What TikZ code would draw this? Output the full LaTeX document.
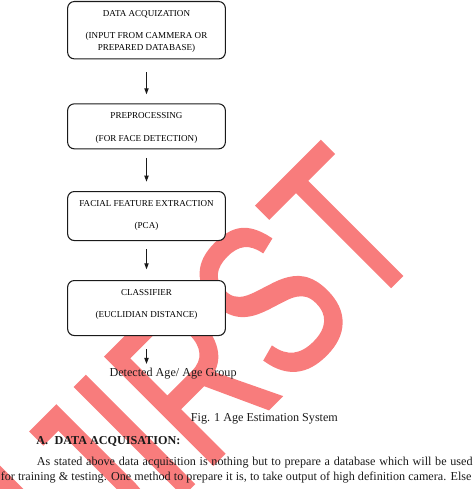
\documentclass[tikz,border=0pt]{standalone}
\usepackage{fontspec}
\usepackage{graphicx}
\setmainfont{Liberation Serif}
\newfontfamily\wmfont[RawFeature={embolden=1.5}]{Liberation Sans}
\usepackage{tikz}
\usetikzlibrary{arrows.meta}
\definecolor{aeInk}{HTML}{1A1A1A}
\definecolor{aeMark}{HTML}{F87C7C}
\tikzset{
  stage/.style     ={draw=aeInk,line width=0.8pt,rounded corners=5pt,fill=white,
                     minimum width=118.3pt,inner sep=0pt,text height=11pt,anchor=north,
                     font=\fontsize{6.8}{8.8}\selectfont},
  flow/.style      ={-{Triangle[length=4.5pt,width=3.2pt]},aeInk,line width=0.75pt,
                     shorten <=6.3pt,shorten >=7pt},
  txt/.style       ={inner sep=0pt,anchor=base west,text=aeInk,
                     font=\fontsize{9.1}{11.7}\selectfont},
  head/.style      ={txt,font=\fontsize{9.1}{11.7}\selectfont\bfseries},
  watermark/.style ={text=aeMark,inner sep=0pt,font=\wmfont\fontsize{165}{165}\selectfont},
}
\begin{document}
\begin{tikzpicture}[x=0.75pt,y=-0.75pt]
\useasboundingbox (0,0) rectangle (474,489);
\clip (0,0) rectangle (474,489);

%% watermark behind everything
\node[watermark,anchor=base east,rotate=45] (wm) at (431,246) {\scalebox{0.73}[1]{IJIRST}};

%% the four stages
\node[stage,text depth=32pt] (acq) at (146.5,1)
{\begin{tabular}[t]{@{}c@{}}DATA ACQUIZATION\\[8.1pt](INPUT FROM CAMMERA OR\\PREPARED DATABASE)\end{tabular}};
\node[stage,text depth=22.75pt] (pre) at (146.5,103.3)
{\begin{tabular}[t]{@{}c@{}}PREPROCESSING\\[8.1pt](FOR FACE DETECTION)\end{tabular}};
\node[stage,text depth=25.75pt] (fex) at (146.5,191)
{\begin{tabular}[t]{@{}c@{}}FACIAL FEATURE EXTRACTION\\[8.1pt](PCA)\end{tabular}};
\node[stage,text depth=30.25pt] (cls) at (146.5,280)
{\begin{tabular}[t]{@{}c@{}}CLASSIFIER\\[8.1pt](EUCLIDIAN DISTANCE)\end{tabular}};

\node[txt] (out) at (109.3,376.5) {Detected Age/ Age Group};

\draw[flow,shorten <=9.5pt,shorten >=6.75pt] (acq) -- (pre);
\draw[flow] (pre) -- (fex);
\draw[flow,shorten <=6pt,shorten >=8pt] (fex) -- (cls);
\draw[flow,shorten <=10pt,shorten >=2.9pt] (cls.south) -- (cls.south |- out.north);

%% caption and start of the section
\node[txt] (cap) at (190.7,421.5) {Fig. 1 Age Estimation System};
\node[head] (sec) at (36,444) {A.\hspace{4.9pt}DATA ACQUISATION:};
\node[txt] (par1) at (36.7,465.2)
{\makebox[326.7pt][s]{As stated above data acquisition is nothing but to prepare a database which will be used}};
\node[txt] (par2) at (0.5,480.8)
{\makebox[353pt][s]{for training \& testing. One method to prepare it is, to take output of high definition camera. Else}};
\end{tikzpicture}
\end{document}
